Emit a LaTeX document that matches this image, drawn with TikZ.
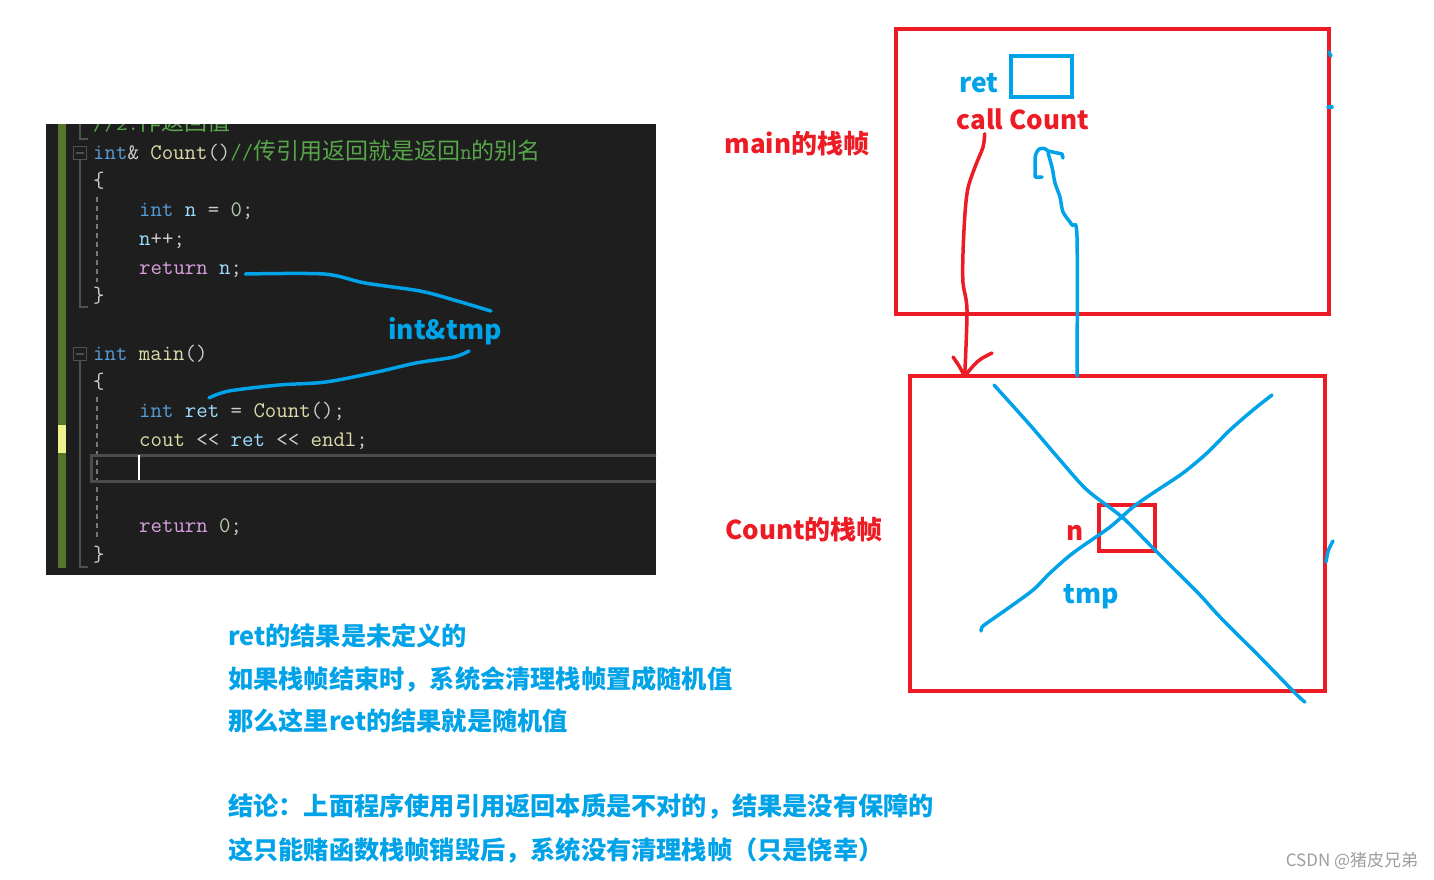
\documentclass[tikz,border=0pt]{standalone}
\usepackage{fontspec}
\newfontfamily\cjk{Noto Sans CJK SC}
\usetikzlibrary{positioning}

\definecolor{penred}{RGB}{237,28,36}
\definecolor{penblue}{RGB}{0,162,232}
\definecolor{vsbg}{RGB}{30,30,30}
\definecolor{vskey}{RGB}{86,156,214}
\definecolor{vsfunc}{RGB}{220,220,170}
\definecolor{vsvar}{RGB}{156,220,254}
\definecolor{vsctrl}{RGB}{216,160,223}
\definecolor{vsnum}{RGB}{181,206,168}
\definecolor{vscomm}{RGB}{87,166,74}
\definecolor{vspunct}{RGB}{205,205,205}
\definecolor{vsbar}{RGB}{87,116,43}
\definecolor{vsmark}{RGB}{239,242,140}
\definecolor{vsguide}{RGB}{120,120,120}

% code colouring
\newcommand{\cKw}[1]{\textcolor{vskey}{#1}}
\newcommand{\cFn}[1]{\textcolor{vsfunc}{#1}}
\newcommand{\cVar}[1]{\textcolor{vsvar}{#1}}
\newcommand{\cRet}[1]{\textcolor{vsctrl}{#1}}
\newcommand{\cNum}[1]{\textcolor{vsnum}{#1}}
\newcommand{\cCm}[1]{\textcolor{vscomm}{#1}}
\newcommand{\cPu}[1]{\textcolor{vspunct}{#1}}
\newcommand{\zh}[1]{{\cjk\fontsize{23}{26}\selectfont #1}}

\begin{document}
\begin{tikzpicture}[
    x=1pt, y=-1pt,
    code/.style = {anchor=base west, inner sep=0pt, font=\fontsize{22.2}{26}\ttfamily},
    frame/.style = {draw=penred, line width=4pt, inner sep=0pt, outer sep=0pt},
    cellbox/.style = {draw=#1, line width=4pt, inner sep=0pt, outer sep=0pt},
    redlabel/.style = {text=penred, inner sep=0pt, font=\cjk\bfseries\fontsize{26}{30}\selectfont},
    bluelabel/.style = {text=penblue, inner sep=0pt, font=\cjk\bfseries\fontsize{26.5}{30}\selectfont},
    note/.style = {text=penblue, anchor=west, inner sep=0pt, font=\cjk\bfseries\fontsize{25.2}{28}\selectfont},
    bluepen/.style = {draw=penblue, line width=3.5pt, line cap=round, line join=round},
    redpen/.style = {draw=penred, line width=3.5pt, line cap=round, line join=round},
    fold/.style = {draw=vsguide!130, line width=1.6pt},
    guide/.style = {draw=vsguide, line width=1.2pt, dash pattern=on 5pt off 4pt}
]
    \useasboundingbox (0,0) rectangle (1434,879);
    \fill[white] (0,0) rectangle (1434,879);

    % code panel
    \fill[vsbg] (46,124) rectangle (656,575);
    \begin{scope}
        \clip (46,124) rectangle (656,575);
        \fill[vsbar] (58,118) rectangle (66,568);
        \fill[vsmark] (58,425) rectangle (66,453);
        % folding marks
        \draw[fold] (80,118) -- (80,139) -- (88,139);
        \draw[fold] (73.5,146.5) rectangle (86.5,159.5);
        \draw[fold] (76,153) -- (84,153);
        \draw[fold] (80,159.5) -- (80,307) -- (88,307);
        \draw[fold] (73.5,347.5) rectangle (86.5,360.5);
        \draw[fold] (76,354) -- (84,354);
        \draw[fold] (80,360.5) -- (80,567) -- (88,567);
        \draw[guide] (97,197) -- (97,282);
        \draw[guide] (97,397) -- (97,540);
        % current line
        \draw[draw=black!70!white, line width=3pt] (91,455) rectangle (670,481);
        \draw[white, line width=1.5pt] (139,455) -- (139,480);

        \node[code] (l0) at (93,130.5) {\cCm{//2.\zh{作返回值}}};
        \node[code] (l1) at (93,159.2) {\cKw{int}\cPu{\&} \cFn{Count}\cPu{()}\cCm{//\zh{传引用返回就是返回}n\zh{的别名}}};
        \node[code] (l2) at (93,187.9) {\cPu{\{}};
        \node[code] (l3) at (139,216.6) {\cKw{int} \cVar{n} \cPu{=} \cNum{0}\cPu{;}};
        \node[code] (l4) at (139,245.3) {\cVar{n}\cPu{++;}};
        \node[code] (retn) at (139,274.0) {\cRet{return} \cVar{n}\cPu{;}};
        \node[code] (l6) at (93,302.7) {\cPu{\}}};
        \node[code] (l8) at (93,360.1) {\cKw{int} \cFn{main}\cPu{()}};
        \node[code] (l9) at (93,388.8) {\cPu{\{}};
        \node[code] (mainret) at (139,417.5) {\cKw{int} \cVar{ret} \cPu{=} \cFn{Count}\cPu{();}};
        \node[code] (l11) at (139,446.2) {\cFn{cout} \cPu{<<} \cVar{ret} \cPu{<<} \cFn{endl}\cPu{;}};
        \node[code] (l14) at (139,532.3) {\cRet{return} \cNum{0}\cPu{;}};
        \node[code] (l15) at (93,561.0) {\cPu{\}}};
    \end{scope}

    \node[bluelabel] (tmpl) at (445,331) {int\&tmp};
    \draw[bluepen] plot[smooth, tension=0.5] coordinates {([xshift=3pt]retn.base east) (324,274) (365,283) (420,291) (454,300) ([xshift=-11pt,yshift=6pt]tmpl.north east)};
    \draw[bluepen] plot[smooth, tension=0.5] coordinates {([xshift=-33pt,yshift=-6pt]tmpl.south east) (454,357) (416,363) (377,372) (326,382) (279,385) (229,391) ([xshift=70pt,yshift=4pt]mainret.north west)};

    % stack frames
    \node[frame, minimum width=433pt, minimum height=285pt] (mainframe) at (1112.5,171.5) {};
    \node[frame, minimum width=415pt, minimum height=315pt] (countframe) at (1117.5,533.5) {};
    \node[cellbox=penblue, minimum width=61pt, minimum height=41pt] (retbox) at (1041.5,76.5) {};
    \node[cellbox=penred, minimum width=56pt, minimum height=46pt] (nbox) at (1127,528) {};

    \node[redlabel] (maintitle) at (797,144) {main的栈帧};
    \node[redlabel] (counttitle) at (804,530) {Count的栈帧};
    \node[bluelabel] (retl) at (979,83) {ret};
    \node[redlabel] (call) at (1023,119) {call Count};
    \node[redlabel, left=15pt of nbox, yshift=-5pt] (nl) {n};
    \node[bluelabel] (tmpt) at (1091,597) {tmp};

    % call arrow
    \coordinate (callout) at ([xshift=28pt,yshift=-4pt]call.south west);
    \coordinate (callin) at ([xshift=-20pt]callout |- countframe.north);
    \draw[redpen] plot[smooth, tension=0.5] coordinates {(callout) (983,147) (975,167) (968,188) (965,213) (963,253) (963,283) (967,310) (callin)};
    \draw[redpen] (953,357) .. controls (958,364) .. (callin);
    \draw[redpen] (992,353) .. controls (978,360) .. (callin);

    % return arrow
    \coordinate (backout) at (1077,0 |- countframe.north);
    \draw[bluepen] plot[smooth, tension=0.5] coordinates {(backout) (1077,237) (1072,225) (1063,212) (1060,197) (1055,183) (1052,167) (1048,153)};
    \draw[bluepen] (1042,177) -- (1035,177) -- (1035,158) .. controls (1036,149) and (1042,145) .. (1048,151) -- (1062,154) -- (1063,158);

    % cross over the finished frame
    \draw[bluepen] plot[smooth, tension=0.5] coordinates {(994,385) (1030,425) (1060,460) (1087,490) (1122,517) (1150,545) (1173,568) (1200,595) (1220,617) (1260,657) (1297,695) (1305,702)};
    \draw[bluepen] plot[smooth, tension=0.5] coordinates {(981,631) (982,627) (987,623) (1007,609) (1033,590) (1050,573) (1073,553) (1110,527) (1133,507) (1153,493) (1183,473) (1207,453) (1230,430) (1253,410) (1272,395)};

    % stray pen marks
    \draw[bluepen] (1329,52) -- (1331,56);
    \draw[bluepen] (1328,107) -- (1332,107);
    \draw[bluepen] (1326,562) .. controls (1328,550) .. (1333,541);

    % notes
    \node[note] (n1) at (228,636) {ret的结果是未定义的};
    \node[note] (n2) at (228,679) {如果栈帧结束时，系统会清理栈帧置成随机值};
    \node[note] (n3) at (228,721) {那么这里ret的结果就是随机值};
    \node[note] (n4) at (228,807) {结论：上面程序使用引用返回本质是不对的，结果是没有保障的};
    \node[note] (n5) at (228,850) {这只能赌函数栈帧销毁后，系统没有清理栈帧（只是侥幸）};

    \node[text=black!38, inner sep=0pt, font=\cjk\fontsize{17}{20}\selectfont] (mark) at (1352,861) {CSDN @猪皮兄弟};
\end{tikzpicture}
\end{document}
